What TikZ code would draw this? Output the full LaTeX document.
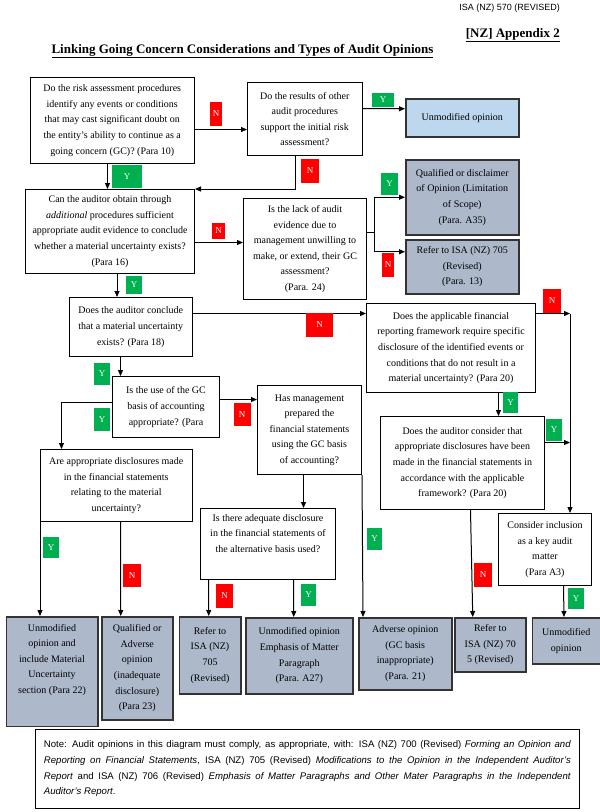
\documentclass[tikz,border=0pt]{standalone}
\usepackage{fontspec}
\setmainfont{Liberation Serif}
\newfontfamily\arialfont{Liberation Sans}
\usetikzlibrary{arrows.meta,calc}
\definecolor{ygreen}{HTML}{00B050}
\definecolor{nred}{HTML}{FF0000}
\definecolor{outgrey}{HTML}{ADB9CA}
\definecolor{outblue}{HTML}{BDD7EE}
\definecolor{outline}{HTML}{333333}
\tikzset{
  qbox/.style={draw=black, line width=1pt, fill=white, anchor=north west, inner sep=0pt, align=center, font=\fontsize{10}{15.6}\selectfont},
  obox/.style={qbox, draw=outline, line width=1.5pt, fill=outgrey},
  ylab/.style={fill=ygreen, text=white, inner sep=0pt, font=\fontsize{9}{9}\selectfont},
  nlab/.style={ylab, fill=nred},
  arr/.style={line width=1pt, -{Triangle[length=6pt,width=5pt]}},
}
\begin{document}
\begin{tikzpicture}[x=1pt,y=1pt,yscale=-1]
\useasboundingbox (0,0) rectangle (600,812);
% Text Node
\node [anchor=east][inner sep=0pt, font=\arialfont\fontsize{9}{11}\selectfont] (isahead) at (560,8) {ISA (NZ) 570 (REVISED)};
% Text Node
\node [anchor=east][inner sep=0pt, font=\fontsize{13}{15}\selectfont\bfseries] (appx) at (560,35) {\underline{[NZ] Appendix 2}};
% Text Node
\node [inner sep=0pt, font=\fontsize{13}{15}\selectfont\bfseries] (title) at (242.5,51) {\underline{Linking Going Concern Considerations and Types of Audit Opinions}};

%Shape: Rectangle
\node [qbox, minimum width=163.5pt, minimum height=86pt] (riskq) at (30,77) {Do the risk assessment procedures\\identify any events or conditions\\that may cast significant doubt on\\the entity’s ability to continue as a\\going concern (GC)? (Para 10)};
%Shape: Rectangle
\node [qbox, minimum width=114.5pt, minimum height=73pt] (otherq) at (247,82) {Do the results of other\\audit procedures\\support the initial risk\\assessment?};
%Shape: Rectangle
\node [obox, fill=outblue, minimum width=113pt, minimum height=38pt] (unmodA) at (405,98) {Unmodified opinion};
%Shape: Rectangle
\node [qbox, minimum width=169pt, minimum height=84pt] (addq) at (25,189) {Can the auditor obtain through\\\textit{additional} procedures sufficient\\appropriate audit evidence to conclude\\whether a material uncertainty exists?\\(Para 16)};
%Shape: Rectangle
\node [qbox, minimum width=123pt, minimum height=101pt] (lackq) at (243,198) {Is the lack of audit\\evidence due to\\management unwilling to\\make, or extend, their GC\\assessment?\\(Para. 24)};
%Shape: Rectangle
\node [obox, minimum width=113pt, minimum height=75pt] (qualA) at (405,159) {Qualified or disclaimer\\of Opinion (Limitation\\of Scope)\\(Para. A35)};
%Shape: Rectangle
\node [obox, minimum width=113pt, minimum height=54pt] (referA) at (405,239) {Refer to ISA (NZ) 705\\(Revised)\\(Para. 13)};
%Shape: Rectangle
\node [qbox, minimum width=122.5pt, minimum height=59pt] (concludeq) at (69,297) {Does the auditor conclude\\that a material uncertainty\\exists? (Para 18)};
%Shape: Rectangle
\node [qbox, minimum width=169pt, minimum height=89pt] (frameq) at (366,303) {Does the applicable financial\\reporting framework require specific\\disclosure of the identified events or\\conditions that do not result in a\\material uncertainty? (Para 20)};
%Shape: Rectangle
\node [qbox, minimum width=107pt, minimum height=61pt] (gcq) at (112,376) {Is the use of the GC\\basis of accounting\\appropriate? (Para};
%Shape: Rectangle
\node [qbox, minimum width=104pt, minimum height=89pt] (mgmtq) at (257,385) {Has management\\prepared the\\financial statements\\using the GC basis\\of accounting?};
%Shape: Rectangle
\node [qbox, minimum width=164pt, minimum height=93pt] (considerq) at (380,416) {Does the auditor consider that\\appropriate disclosures have been\\made in the financial statements in\\accordance with the applicable\\framework? (Para 20)};
%Shape: Rectangle
\node [qbox, minimum width=93pt, minimum height=72pt] (keym) at (498,513) {Consider inclusion\\as a key audit\\matter\\(Para A3)};
%Shape: Rectangle
\node [qbox, minimum width=151.5pt, minimum height=72pt] (discq) at (40,449) {Are appropriate disclosures made\\in the financial statements\\relating to the material\\uncertainty?};
%Shape: Rectangle
\node [qbox, minimum width=135pt, minimum height=71pt] (altq) at (200,508) {Is there adequate disclosure\\in the financial statements of\\the alternative basis used?\\[6pt]};

%Shape: Rectangle
\node [obox, minimum width=91.5pt, minimum height=109.5pt] (outMU) at (5.5,616) {Unmodified\\opinion and\\include Material\\Uncertainty\\section (Para 22)\\[10pt]};
%Shape: Rectangle
\node [obox, minimum width=71pt, minimum height=103pt] (outQA) at (101,616) {Qualified or\\Adverse\\opinion\\(inadequate\\disclosure)\\(Para 23)};
%Shape: Rectangle
\node [obox, minimum width=61.5pt, minimum height=77pt] (outRef) at (178.5,616) {Refer to\\ISA (NZ)\\705\\(Revised)};
%Shape: Rectangle
\node [obox, minimum width=107pt, minimum height=76pt] (outEOM) at (245,617) {Unmodified opinion\\Emphasis of Matter\\Paragraph\\(Para. A27)};
%Shape: Rectangle
\node [obox, minimum width=93pt, minimum height=72pt] (outAdv) at (358,617) {Adverse opinion\\(GC basis\\inappropriate)\\(Para. 21)};
%Shape: Rectangle
\node [obox, minimum width=71pt, minimum height=54pt] (outRefB) at (454,617) {Refer to\\ISA (NZ) 70\\5 (Revised)};
%Shape: Rectangle
\node [obox, minimum width=68pt, minimum height=46pt] (outUnmod) at (531.5,617) {Unmodified\\opinion};

% Text Node
\node [draw=black, line width=0.8pt, anchor=north west][inner xsep=8.5pt, inner ysep=0pt, minimum width=544pt, minimum height=79pt, text width=527pt, align=justify, font=\arialfont\fontsize{9.6}{15.7}\selectfont] (note) at (35,729) {Note: Audit opinions in this diagram must comply, as appropriate, with: ISA (NZ) 700 (Revised) \textit{Forming an Opinion and}\linebreak \textit{Reporting on Financial Statements}, ISA (NZ) 705 (Revised) \textit{Modifications to the Opinion in the Independent Auditor’s}\linebreak \textit{Report} and ISA (NZ) 706 (Revised) \textit{Emphasis of Matter Paragraphs and Other Mater Paragraphs in the Independent}\linebreak \textit{Auditor’s Report}.};

%Straight Lines
\draw [arr] ($(riskq.east)+(0,9)$) -- ($(otherq.west)+(0,10.5)$);
\draw [arr] ($(otherq.east)+(0,-10.5)$) -- ($(unmodA.west)+(0,-9)$);
\draw [arr] ($(riskq.south)+(-4.75,0)$) -- ($(addq.north)+(-2.5,0)$);
\draw [arr] ($(otherq.south)+(-9.75,0)$) |- (addq.north east);
\draw [arr] ($(addq.east)+(0,11)$) -- ($(lackq.west)+(0,-6.5)$);
\draw [line width=1pt] ($(lackq.east)+(0,-16.5)$) -- ++(7,0) coordinate (lacksplit);
\draw [arr] (lacksplit) |- (qualA.west);
\draw [arr] (lacksplit) |- ($(referA.west)+(0,-15)$);
\draw [arr] ($(addq.south)+(7,0)$) -- ($(concludeq.north)+(-13.75,0)$);
\draw [arr] ($(concludeq.east)+(0,-13.5)$) -- ($(frameq.west)+(0,-34.5)$);
\draw [arr] ($(frameq.east)+(0,-34.5)$) -- ++(34,0) coordinate (frameturn);
\draw [arr] (frameturn) -- (frameturn |- keym.north);
\draw [arr] ($(frameq.south)+(47.5,0)$) -- ($(considerq.north)+(36,0)$);
\draw [arr] ($(considerq.east)+(0,-20.5)$) coordinate (consright) -- (consright -| frameturn);
\draw [arr] ($(concludeq.south)+(-10.25,0)$) -- ($(gcq.north)+(-45.5,0)$);
\draw [arr] ($(gcq.east)+(0,-7.5)$) -- ($(mgmtq.west)+(0,-30.5)$);
\draw [arr] ($(gcq.west)+(0,-4.5)$) -| ($(discq.north)+(-54.75,0)$);
\draw [arr] ($(mgmtq.south)+(-6,0)$) -- ($(altq.north)+(35.5,0)$);
\draw [arr] (mgmtq.south east) -- ($(outAdv.north west)+(5,0)$);
\draw [arr] (discq.south west) -- (discq.south west |- outMU.north);
\draw [arr] ($(discq.south)+(4.25,0)$) -- ($(outQA.north)+(-16.5,0)$);
\draw [arr] ($(altq.south)+(-59.5,0)$) -- ($(outRef.north)+(-1.25,0)$);
\draw [arr] ($(altq.south)+(25.5,0)$) -- ($(outEOM.north)+(-5.5,0)$);
\draw [arr] ($(considerq.south)+(8,0)$) -- ($(outRefB.north)+(-17.5,0)$);
\draw [arr] ($(keym.south)+(18.5,0)$) -- ($(outUnmod.north)+(-2.25,0)$);

% Text Node
\node [nlab, minimum width=12pt, minimum height=24pt] (nRisk) at (216,114) {N};
\node [ylab, minimum width=22pt, minimum height=14pt] (yOther) at (383,100) {Y};
\node [ylab, minimum width=30pt, minimum height=23pt] (yRisk) at (127,176.5) {Y};
\node [nlab, minimum width=18pt, minimum height=24pt] (nOther) at (310,171) {N};
\node [ylab, minimum width=17pt, minimum height=22pt] (yLack) at (389.5,184) {Y};
\node [nlab, minimum width=13pt, minimum height=16pt] (nAdd) at (218.5,231) {N};
\node [nlab, minimum width=12pt, minimum height=24pt] (nLack) at (388,265) {N};
\node [ylab, minimum width=16pt, minimum height=18pt] (yAdd) at (134,285) {Y};
\node [nlab, minimum width=27pt, minimum height=24pt] (nConclude) at (319.5,325) {N};
\node [nlab, minimum width=18pt, minimum height=24pt] (nFrame) at (552,301) {N};
\node [ylab, minimum width=15pt, minimum height=21pt] (yFrame) at (510.5,402.5) {Y};
\node [ylab, minimum width=16pt, minimum height=22pt] (yConsider) at (554,430) {Y};
\node [ylab, minimum width=16pt, minimum height=22pt] (yConclude) at (102,374) {Y};
\node [nlab, minimum width=17pt, minimum height=23pt] (nGc) at (242,414.5) {N};
\node [ylab, minimum width=16pt, minimum height=23pt] (yGc) at (102,419.5) {Y};
\node [ylab, minimum width=16pt, minimum height=21pt] (yDisc) at (51,547.5) {Y};
\node [nlab, minimum width=18pt, minimum height=23pt] (nDisc) at (132,575.5) {N};
\node [nlab, minimum width=17pt, minimum height=24pt] (nAlt) at (224.5,596) {N};
\node [ylab, minimum width=15pt, minimum height=22pt] (yAlt) at (308.5,595) {Y};
\node [ylab, minimum width=15pt, minimum height=22pt] (yMgmt) at (374.5,539) {Y};
\node [nlab, minimum width=18pt, minimum height=24pt] (nConsider) at (483,575) {N};
\node [ylab, minimum width=16pt, minimum height=21pt] (yKey) at (576,598.5) {Y};
\end{tikzpicture}
\end{document}
